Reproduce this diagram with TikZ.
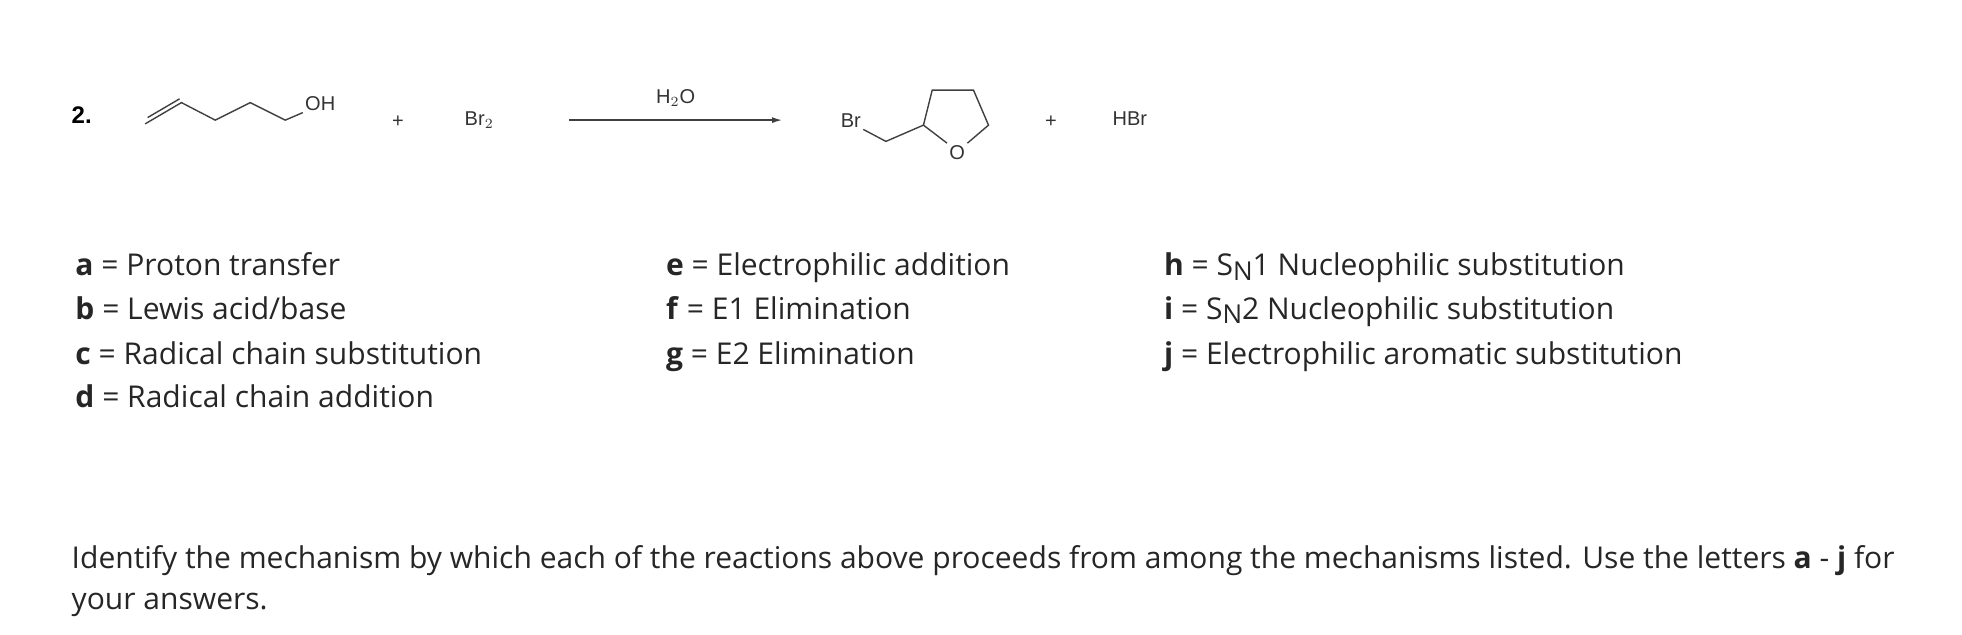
\documentclass[tikz,border=0pt]{standalone}
\usepackage{fontspec}
\usetikzlibrary{calc,arrows.meta}
\setmainfont{Open Sans}
\newfontfamily\chemfont{Liberation Sans}
\newcommand{\snsub}[1]{S\raisebox{-0.3ex}{\fontsize{13}{15}\selectfont N}#1}
\begin{document}
\begin{tikzpicture}[x=0.625pt,y=-0.625pt,
  lst/.style={anchor=base west,inner sep=0pt,font=\fontsize{15}{18}\selectfont,text=black!85},
  chem/.style={inner sep=1pt,font=\chemfont\fontsize{10}{12}\selectfont,text=black!80},
  bond/.style={line width=0.7pt,draw=black!75}]
\useasboundingbox (0,0) rectangle (1568,507);
\node[anchor=west,inner sep=0pt,font=\chemfont\bfseries\fontsize{12}{14}\selectfont] (num) at (57,92) {2.};
% reactant
\coordinate (c1) at (116,99);
\coordinate (c2) at (145,82);
\coordinate (c3) at (172,96);
\coordinate (c4) at (200,82);
\coordinate (c5) at (228,96);
\node[chem,anchor=south west] (oh) at (242,90) {OH};
\draw[bond] (c1)--(c2)--(c3)--(c4)--(c5)--(oh.south west);
\draw[bond] ($(c1)!0.12!(c2)+(-1.5,-3)$) -- ($(c2)+(-1.5,-3)$);
\node[chem] (p1) at (318,97) {+};
\node[chem] (br2) at (383,96) {Br$_2$};
\node[chem] (h2o) at (540,78) {H$_2$O};
\coordinate (a1) at (455,96);
\coordinate (a2) at (625,96);
\draw[bond,-{Latex[length=5pt,width=3pt]}] (a1)--(a2);
% product
\node[chem] (br) at (680,96) {Br};
\coordinate (m) at (708,113);
\coordinate (r1) at (738,100);
\coordinate (r2) at (745,72);
\coordinate (r3) at (778,72);
\coordinate (r4) at (790,100);
\node[chem] (o) at (765,122) {O};
\draw[bond] (br.south east)--(m)--(r1)--(r2)--(r3)--(r4)--(o.north east);
\draw[bond] (r1)--(o.north west);
\node[chem] (p2) at (840,97) {+};
\node[chem] (hbr) at (903,95) {HBr};
% list
\node[lst] (la) at (60,220) {\textbf{a} = Proton transfer};
\node[lst] (lb) at (60,255) {\textbf{b} = Lewis acid/base};
\node[lst] (lc) at (60,291) {\textbf{c} = Radical chain substitution};
\node[lst] (ld) at (60,326) {\textbf{d} = Radical chain addition};
\node[lst] (le) at (532,220) {\textbf{e} = Electrophilic addition};
\node[lst] (lf) at (532,255) {\textbf{f} = E1 Elimination};
\node[lst] (lg) at (532,291) {\textbf{g} = E2 Elimination};
\node[lst] (lh) at (930,220) {\textbf{h} = \snsub{1} Nucleophilic substitution};
\node[lst] (li) at (930,255) {\textbf{i} = \snsub{2} Nucleophilic substitution};
\node[lst] (lj) at (930,291) {\textbf{j} = Electrophilic aromatic substitution};
\node[lst] (q1) at (57,454) {Identify the mechanism by which each of the reactions above proceeds from among the mechanisms listed. Use the letters \textbf{a} - \textbf{j} for};
\node[lst] (q2) at (57,487) {your answers.};
\end{tikzpicture}
\end{document}
